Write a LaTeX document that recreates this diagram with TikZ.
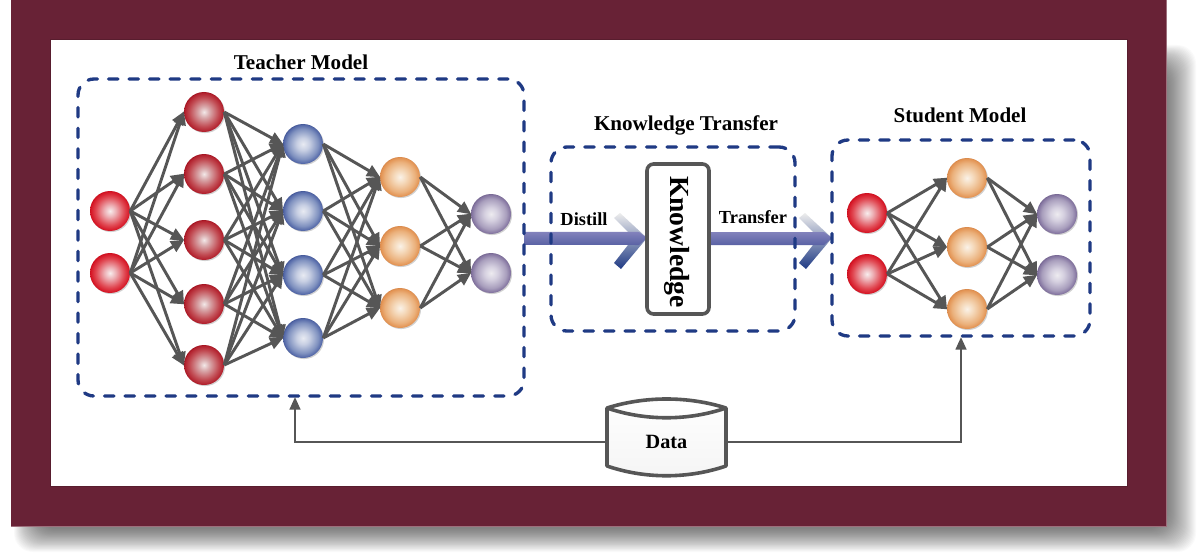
\documentclass[tikz,border=0pt]{standalone}
\usepackage{fontspec}
\setmainfont{Liberation Serif}
\usetikzlibrary{arrows.meta,calc}
\pgfdeclareradialshading{ballred}{\pgfpointorigin}{rgb(0bp)=(.97,.93,.93);rgb(7bp)=(.93,.70,.72);rgb(18bp)=(.88,.28,.32);rgb(24bp)=(.84,.09,.15);rgb(25bp)=(.80,.06,.12);rgb(50bp)=(.80,.06,.12)}
\pgfdeclareradialshading{balldark}{\pgfpointorigin}{rgb(0bp)=(.95,.91,.91);rgb(7bp)=(.85,.66,.67);rgb(18bp)=(.76,.30,.33);rgb(24bp)=(.70,.13,.18);rgb(25bp)=(.64,.08,.13);rgb(50bp)=(.64,.08,.13)}
\pgfdeclareradialshading{ballblue}{\pgfpointorigin}{rgb(0bp)=(.91,.92,.95);rgb(8bp)=(.78,.81,.89);rgb(19bp)=(.50,.57,.75);rgb(24bp)=(.33,.41,.66);rgb(25bp)=(.27,.35,.60);rgb(50bp)=(.27,.35,.60)}
\pgfdeclareradialshading{ballorange}{\pgfpointorigin}{rgb(0bp)=(.98,.95,.91);rgb(8bp)=(.96,.85,.73);rgb(19bp)=(.92,.69,.48);rgb(24bp)=(.89,.58,.33);rgb(25bp)=(.85,.54,.30);rgb(50bp)=(.85,.54,.30)}
\pgfdeclareradialshading{ballpurple}{\pgfpointorigin}{rgb(0bp)=(.93,.92,.94);rgb(8bp)=(.84,.82,.88);rgb(19bp)=(.66,.62,.74);rgb(24bp)=(.52,.46,.63);rgb(25bp)=(.47,.41,.58);rgb(50bp)=(.47,.41,.58)}
\definecolor{framecol}{HTML}{682236}
\definecolor{dashblue}{HTML}{1F3A84}
\definecolor{linegray}{HTML}{565656}
\definecolor{shafttop}{HTML}{8282BC}
\definecolor{shaftbot}{HTML}{5A62A4}
\definecolor{armlight}{HTML}{EDEDED}
\definecolor{armmid}{HTML}{6A6EAC}
\tikzset{
  x=0.75pt,y=-0.75pt,
  ball/.style={circle,minimum size=30pt,inner sep=0pt,
    preaction={fill=black,fill opacity=.18,transform canvas={xshift=.8pt,yshift=-.8pt}}},
  redball/.style={ball,shading=ballred},
  darkball/.style={ball,shading=balldark},
  blueball/.style={ball,shading=ballblue},
  orangeball/.style={ball,shading=ballorange},
  purpleball/.style={ball,shading=ballpurple},
  edge/.style={draw=linegray,line width=2.2pt,-{Triangle[length=10pt,width=9pt]},shorten >=-.5pt},
  feed/.style={draw=linegray,line width=1.8pt,-{Triangle[length=9.5pt,width=8pt]}},
  dashbox/.style={draw=dashblue,line width=2.5pt,rounded corners=12pt,line cap=round,
    dash pattern=on 7pt off 8.4pt,inner sep=0pt},
  title/.style={font=\bfseries\fontsize{15.8}{18}\selectfont,inner sep=0pt},
  small/.style={font=\bfseries\fontsize{13.8}{16}\selectfont,inner sep=0pt},
  shaft/.style={top color=shafttop,bottom color=shaftbot},
  headshade/.style={top color=armlight,middle color=armmid,bottom color=dashblue},
}
\newcommand{\chevron}[1]{%
  \path[headshade] (#1,238) -- ++(-27,-25) -- ++(-6,5) -- ++(14,14) -- ++(0,13) -- ++(-14,18) -- ++(7,6) -- cycle;
}
\begin{document}
\begin{tikzpicture}
\useasboundingbox (0,0) rectangle (1200,560);
\fill[white] (0,0) rectangle (1200,560);
% soft shadow of the frame
\foreach \i in {0,1,...,29}{
  \fill[black,opacity=.019,rounded corners=14pt]
    ({14+.8*\i},{45+.8*\i}) rectangle ({1196-\i},{552-.8*\i});
}
% frame
\fill[framecol] (11,0) rectangle (1166,526);
\draw[framecol!65!white,line width=.7pt] (11,526) -- (1166,526) -- (1166,0);
\fill[white] (50,39) rectangle (1127,486);
\draw[framecol!85!black,line width=.6pt] (50,486) -- (50,39) -- (1127,39) -- (1127,486) -- cycle;

% anchors of the boxes
\node[inner sep=0pt,minimum width=334.5pt,minimum height=237.75pt] (teacher) at (301,237.5) {};
\node[inner sep=0pt,minimum width=183pt,minimum height=138pt] (transfer) at (673,239) {};
\node[inner sep=0pt,minimum width=193.5pt,minimum height=147pt] (student) at (961,238) {};

% big arrows
\chevron{647}
\path[shaft] ([yshift=4.2pt]teacher.east) -- (639,232) -- (647,238) -- (639,245) -- ([yshift=-5.6pt]teacher.east) -- cycle;
\chevron{832}
\path[shaft] (709,232) -- (824,232) -- (832,238) -- (824,245) -- (709,245) -- cycle;

% boxes
\node[dashbox,minimum width=334.5pt,minimum height=237.75pt] at (teacher) {};
\node[dashbox,minimum width=183pt,minimum height=138pt] at (transfer) {};
\node[dashbox,minimum width=193.5pt,minimum height=147pt] at (student) {};

% knowledge
\node[draw=linegray,fill=white,line width=2.7pt,rounded corners=5pt,minimum width=46.5pt,minimum height=112.5pt,inner sep=0pt] (kn) at (678,239) {};
\node[rotate=-90,font=\bfseries\fontsize{20.7}{24}\selectfont,inner sep=0pt] (kntext) at (677,242) {Knowledge};

% titles
\node[title] (t1) at (301,62) {Teacher Model};
\node[title] (t2) at (686,125) {Knowledge Transfer};
\node[title] (t3) at (960,115) {Student Model};
\node[small] (l1) at (584,219) {Distill};
\node[small] (l2) at (753,217) {Transfer};

% teacher network
\node[redball] (a1) at (110,211) {};
\node[redball] (a2) at (110,273) {};
\node[darkball] (b1) at (204,112) {};
\node[darkball] (b2) at (204,174) {};
\node[darkball] (b3) at (204,240) {};
\node[darkball] (b4) at (204,304) {};
\node[darkball] (b5) at (204,365) {};
\node[blueball] (c1) at (303,144) {};
\node[blueball] (c2) at (303,211) {};
\node[blueball] (c3) at (303,275) {};
\node[blueball] (c4) at (303,338) {};
\node[orangeball] (d1n) at (400,177) {};
\node[orangeball] (d2n) at (400,246) {};
\node[orangeball] (d3n) at (400,308) {};
\node[purpleball] (e1) at (491,214) {};
\node[purpleball] (e2) at (491,273) {};
% student network
\node[redball] (s1) at (867,213) {};
\node[redball] (s2) at (867,274) {};
\node[orangeball] (m1) at (967,178) {};
\node[orangeball] (m2) at (967,247) {};
\node[orangeball] (m3) at (967,309) {};
\node[purpleball] (o1) at (1057,214) {};
\node[purpleball] (o2) at (1057,275) {};

\foreach \u in {a1,a2} \foreach \v in {b1,b2,b3,b4,b5} \draw[edge] (\u.east) -- (\v.west);
\foreach \u in {b1,b2,b3,b4,b5} \foreach \v in {c1,c2,c3,c4} \draw[edge] (\u.east) -- (\v.west);
\foreach \u in {c1,c2,c3,c4} \foreach \v in {d1n,d2n,d3n} \draw[edge] (\u.east) -- (\v.west);
\foreach \u in {d1n,d2n,d3n} \foreach \v in {e1,e2} \draw[edge] (\u.east) -- (\v.west);
\foreach \u in {s1,s2} \foreach \v in {m1,m2,m3} \draw[edge] (\u.east) -- (\v.west);
\foreach \u in {m1,m2,m3} \foreach \v in {o1,o2} \draw[edge] (\u.east) -- (\v.west);

% data cylinder
\path[top color=white,bottom color=black!4,draw=linegray,line width=2.7pt,line join=round]
  (607,408) .. controls (645,396) and (688,396) .. (726,408)
  -- (726,466) .. controls (688,479) and (645,479) .. (607,466) -- cycle;
\draw[linegray,line width=2.7pt] (607,408) .. controls (645,421) and (688,421) .. (726,408);
\node[inner sep=0pt,minimum width=89.25pt,minimum height=50pt,font=\bfseries\fontsize{15.2}{18}\selectfont] (data) at (666.5,442) {Data};
\coordinate (tin) at (295,397);
\coordinate (sin) at (961,337);
\draw[feed] (data.west) -| (tin);
\draw[feed] (data.east) -| (sin);
\end{tikzpicture}
\end{document}
